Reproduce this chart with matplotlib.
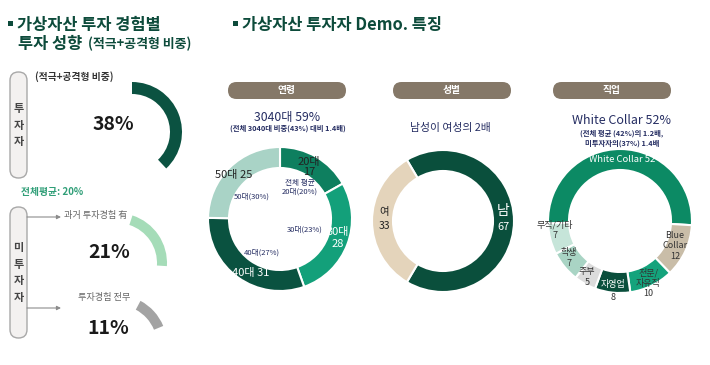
import matplotlib
matplotlib.use('Agg')
import matplotlib.pyplot as plt
from matplotlib.patches import FancyBboxPatch, Wedge, Rectangle

plt.rcParams['font.family'] = ['Noto Sans CJK KR', 'DejaVu Sans']

# ---------------- data ----------------
gauge_labels = ['(적극+공격형 비중)', '과거 투자경험 有', '투자경험 전무']
gauge_values = [38, 21, 11]
overall_avg = 20

age_labels = ['20대', '30대', '40대', '50대']
age_values = [17, 28, 31, 25]
age_avg = [20, 23, 27, 30]

gender_labels = ['남', '여']
gender_values = [67, 33]

job_labels = ['White Collar', 'Blue Collar', '전문/자유직', '자영업', '주부', '학생', '무직/기타']
job_values = [52, 12, 10, 8, 5, 7, 7]

# ---------------- figure ----------------
W, H = 710, 365
fig = plt.figure(figsize=(W / 100, H / 100), dpi=100)
ax = fig.add_axes([0, 0, 1, 1])

TITLE = '#0d4b3b'
NAVY = '#252d62'
PILL = '#857868'
DARK = '#222222'


def T(x, y, s, **kw):
    kw.setdefault('ha', 'center')
    kw.setdefault('va', 'center')
    return ax.text(x, H - y, s, **kw)


# titles
ax.add_patch(Rectangle((8, H - 26), 5, 5, color=TITLE, lw=0))
T(17, 25, '가상자산 투자 경험별', ha='left', fontsize=11.8, fontweight='bold', color=TITLE)
t2 = T(18, 44, '투자 성향', ha='left', fontsize=11.8, fontweight='bold', color=TITLE)
ax.annotate('(적극+공격형 비중)', xy=(1, 0.5), xycoords=t2, xytext=(4, 0),
            textcoords='offset points', ha='left', va='center',
            fontsize=9.3, fontweight='bold', color=TITLE)
ax.add_patch(Rectangle((233, H - 26), 5, 5, color=TITLE, lw=0))
T(242, 25, '가상자산 투자자 Demo. 특징', ha='left', fontsize=11.8, fontweight='bold', color=TITLE)

# ---------------- left panel ----------------
def vpill(y0, y1, text):
    ax.add_patch(FancyBboxPatch((10, H - y1), 17, y1 - y0,
                                boxstyle='round,pad=0,rounding_size=8.5',
                                fc='#f3f1f0', ec='#a8a8a8', lw=1))
    T(18.5, (y0 + y1) / 2, '\n'.join(text), fontsize=8, fontweight='bold',
      color='#444444', linespacing=1.35)

vpill(72, 178, '투자자')
vpill(207, 338, '미투자자')

T(35, 77, gauge_labels[0], ha='left', fontsize=7, fontweight='bold', color='#333333')
T(21, 192, f'전체평균: {overall_avg}%', ha='left', fontsize=7, fontweight='bold', color='#2f9e77')

# arrows
for yy in (217, 308):
    ax.annotate('', xy=(61, H - yy), xytext=(27, H - yy),
                arrowprops=dict(arrowstyle='-|>', color='#8c8c8c', lw=0.8,
                                mutation_scale=6, shrinkA=0, shrinkB=0))
T(64, 215, gauge_labels[1], ha='left', fontsize=6.6, color='#666666')
T(78, 297, gauge_labels[2], ha='left', fontsize=6.6, color='#666666')

# gauge arcs
gauge_geo = [  # (cx, cy, r, width, start deg clockwise from top, color)
    (132, 132, 50, 12, 0, '#0b5241'),
    (117, 263, 50, 10, 18, '#a5dcb8'),
    (117, 345, 50, 10, 28, '#a3a3a3'),
]
pct_pos = [(113, 125), (109, 253), (108, 328)]
for v, (cx, cy, r, w, s, c), (px, py) in zip(gauge_values, gauge_geo, pct_pos):
    ax.add_patch(Wedge((cx, H - cy), r, 90 - (s + v * 3.6), 90 - s, width=w, color=c, lw=0))
    T(px, py, f'{v}%', fontsize=14, fontweight='bold', color='#1a1a1a')

# ---------------- header pills ----------------
def hpill(cx, text):
    ax.add_patch(FancyBboxPatch((cx - 59, H - 99), 118, 17,
                                boxstyle='round,pad=0,rounding_size=8.5',
                                fc=PILL, ec='none'))
    T(cx, 90.5, text, fontsize=7, fontweight='bold', color='white')

hpill(287, '연령')
hpill(452, '성별')
hpill(612, '직업')

WP = dict(width=21, edgecolor='white', linewidth=1.5)

# ---------------- age donut ----------------
acx, acy = 280, 219
T(287, 117, '3040대 59%', fontsize=8.8, fontweight='medium', color=NAVY)
T(288, 128, '(전체 3040대 비중(43%) 대비 1.4배)', fontsize=5.3, fontweight='bold', color=NAVY)
ax.pie(age_values, colors=['#0e7f5f', '#13a07a', '#0a5240', '#a9d3c6'],
       startangle=90, counterclock=False, radius=72, center=(acx, H - acy),
       wedgeprops=WP, frame=True)
T(309, 167, f'{age_labels[0]}\n{age_values[0]}', fontsize=8, color=DARK, linespacing=1.1)
T(338, 238, f'{age_labels[1]}\n{age_values[1]}', fontsize=8, color='white', linespacing=1.2)
T(251, 273, f'{age_labels[2]} {age_values[2]}', fontsize=8, color='white')
T(234, 175, f'{age_labels[3]} {age_values[3]}', fontsize=8, color=DARK)
IT = dict(fontsize=5.5, color=NAVY, style='italic')
T(300, 187, f'전체 평균\n{age_labels[0]}({age_avg[0]}%)', linespacing=1.1, **IT)
T(305, 230, f'{age_labels[1]}({age_avg[1]}%)', **IT)
T(262, 253, f'{age_labels[2]}({age_avg[2]}%)', **IT)
T(252, 197, f'{age_labels[3]}({age_avg[3]}%)', **IT)

# ---------------- gender donut ----------------
gcx, gcy = 443, 221
T(450, 128, '남성이 여성의 2배', fontsize=7.8, fontweight='medium', color=NAVY)
ax.pie(gender_values, colors=['#0a4f3c', '#e4d4bb'],
       startangle=-gender_values[0] * 3.6 / 2, counterclock=True, radius=71,
       center=(gcx, H - gcy), wedgeprops=WP, frame=True)
T(503, 211, gender_labels[0], fontsize=10, color='white')
T(504, 227, str(gender_values[0]), fontsize=7.8, color='white')
T(384, 212, gender_labels[1], fontsize=7.5, color=DARK)
T(384, 226, str(gender_values[1]), fontsize=7.5, color=DARK)

# ---------------- job donut ----------------
jcx, jcy = 620, 221
T(622, 120, f'{job_labels[0]} {job_values[0]}%', fontsize=9, fontweight='medium', color=NAVY)
T(622, 133, '(전체 평균 (42%)의 1.2배,', fontsize=5.3, fontweight='bold', color=NAVY)
T(622, 143, '미투자자의(37%) 1.4배', fontsize=5.3, fontweight='bold', color=NAVY)
ax.pie(job_values, colors=['#0c8a64', '#c9bda8', '#14a37c', '#0a4f3c', '#dcdcdc', '#a9d4c4', '#c6e5d9'],
       startangle=182, counterclock=False, radius=72, center=(jcx, H - jcy),
       wedgeprops=WP, frame=True)
JT = dict(fontsize=6.5, color='#333333', linespacing=1.15)
T(622, 159, f'{job_labels[0]} {job_values[0]}', fontsize=6.8, color='white')
T(675, 246, 'Blue\nCollar\n' + str(job_values[1]), **JT)
T(648, 283, '전문/\n자유직\n' + str(job_values[2]), **JT)
T(613, 285, job_labels[3], fontsize=6.5, color='white')
T(613, 298, str(job_values[3]), fontsize=6.5, color='#333333')
T(587, 277, f'{job_labels[4]}\n{job_values[4]}', **JT)
T(569, 258, f'{job_labels[5]}\n{job_values[5]}', **JT)
T(555, 230, f'{job_labels[6]}\n{job_values[6]}', **JT)

ax.set_xlim(0, W)
ax.set_ylim(0, H)
ax.set_aspect('auto')
ax.axis('off')
fig.savefig('out.png', dpi=100)
